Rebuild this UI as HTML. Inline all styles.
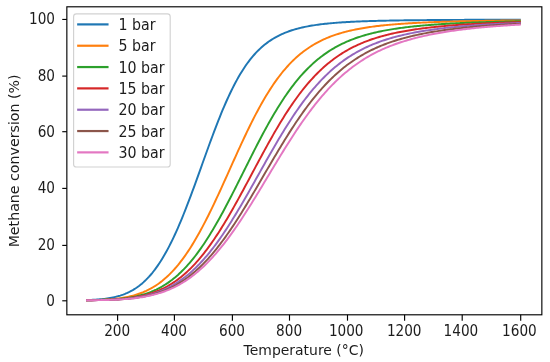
<!DOCTYPE html>
<html><head><meta charset="utf-8"><title>Methane conversion</title>
<style>html,body{margin:0;padding:0;background:#fff}svg{display:block}text{font-family:"DejaVu Sans","Liberation Sans",sans-serif;font-size:15.40px;fill:#1c1c1c}</style></head><body>
<svg width="550" height="362" viewBox="0 0 550 362">
<rect width="550" height="362" fill="#fff"/>
<g fill="none" stroke-width="1.95" stroke-linecap="square" stroke-linejoin="round">
<polyline stroke="#1f77b4" points="87.06,300.01 88.50,299.97 89.94,299.91 91.38,299.85 92.83,299.78 94.27,299.71 95.71,299.62 97.15,299.52 98.60,299.41 100.04,299.29 101.48,299.16 102.92,299.01 104.37,298.85 105.81,298.66 107.25,298.46 108.69,298.24 110.14,298.00 111.58,297.74 113.02,297.45 114.46,297.14 115.91,296.80 117.35,296.42 118.79,296.02 120.23,295.59 121.68,295.11 123.12,294.61 124.56,294.06 126.00,293.47 127.45,292.84 128.89,292.16 130.33,291.44 131.77,290.66 133.22,289.83 134.66,288.95 136.10,288.01 137.55,287.01 138.99,285.95 140.43,284.83 141.87,283.64 143.32,282.38 144.76,281.05 146.20,279.65 147.64,278.18 149.09,276.63 150.53,275.00 151.97,273.29 153.41,271.50 154.86,269.63 156.30,267.67 157.74,265.62 159.18,263.49 160.63,261.28 162.07,258.97 163.51,256.57 164.95,254.09 166.40,251.52 167.84,248.85 169.28,246.10 170.72,243.26 172.17,240.34 173.61,237.32 175.05,234.23 176.49,231.05 177.94,227.79 179.38,224.45 180.82,221.04 182.26,217.56 183.71,214.00 185.15,210.38 186.59,206.70 188.03,202.97 189.48,199.18 190.92,195.34 192.36,191.46 193.80,187.54 195.25,183.58 196.69,179.60 198.13,175.60 199.57,171.59 201.02,167.56 202.46,163.53 203.90,159.50 205.34,155.48 206.79,151.48 208.23,147.49 209.67,143.53 211.11,139.61 212.56,135.72 214.00,131.88 215.44,128.08 216.88,124.34 218.33,120.65 219.77,117.03 221.21,113.47 222.65,109.99 224.10,106.58 225.54,103.24 226.98,99.99 228.42,96.82 229.87,93.73 231.31,90.73 232.75,87.82 234.19,84.99 235.64,82.26 237.08,79.61 238.52,77.05 239.96,74.58 241.41,72.20 242.85,69.90 244.29,67.69 245.73,65.57 247.18,63.53 248.62,61.57 250.06,59.69 251.50,57.89 252.95,56.16 254.39,54.51 255.83,52.93 257.27,51.42 258.72,49.98 260.16,48.60 261.60,47.28 263.04,46.03 264.49,44.83 265.93,43.69 267.37,42.60 268.81,41.56 270.26,40.57 271.70,39.63 273.14,38.73 274.59,37.87 276.03,37.06 277.47,36.28 278.91,35.54 280.36,34.84 281.80,34.17 283.24,33.53 284.68,32.93 286.13,32.35 287.57,31.80 289.01,31.27 290.45,30.78 291.90,30.30 293.34,29.85 294.78,29.42 296.22,29.01 297.67,28.62 299.11,28.24 300.55,27.89 301.99,27.55 303.44,27.23 304.88,26.92 306.32,26.62 307.76,26.34 309.21,26.08 310.65,25.82 312.09,25.58 313.53,25.35 314.98,25.12 316.42,24.91 317.86,24.71 319.30,24.52 320.75,24.33 322.19,24.15 323.63,23.98 325.07,23.82 326.52,23.67 327.96,23.52 329.40,23.38 330.84,23.24 332.29,23.11 333.73,22.99 335.17,22.87 336.61,22.75 338.06,22.64 339.50,22.54 340.94,22.44 342.38,22.34 343.83,22.25 345.27,22.16 346.71,22.07 348.15,21.99 349.60,21.91 351.04,21.84 352.48,21.76 353.92,21.69 355.37,21.62 356.81,21.56 358.25,21.50 359.69,21.44 361.14,21.38 362.58,21.32 364.02,21.27 365.46,21.22 366.91,21.17 368.35,21.12 369.79,21.08 371.23,21.03 372.68,20.99 374.12,20.95 375.56,20.91 377.00,20.87 378.45,20.83 379.89,20.80 381.33,20.76 382.77,20.73 384.22,20.70 385.66,20.66 387.10,20.63 388.54,20.61 389.99,20.58 391.43,20.55 392.87,20.52 394.31,20.50 395.76,20.47 397.20,20.45 398.64,20.43 400.08,20.40 401.53,20.38 402.97,20.36 404.41,20.34 405.86,20.32 407.30,20.30 408.74,20.28 410.18,20.27 411.63,20.25 413.07,20.23 414.51,20.21 415.95,20.20 417.40,20.18 418.84,20.17 420.28,20.15 421.72,20.14 423.17,20.12 424.61,20.11 426.05,20.10 427.49,20.08 428.94,20.07 430.38,20.06 431.82,20.05 433.26,20.04 434.71,20.03 436.15,20.01 437.59,20.00 439.03,19.99 440.48,19.98 441.92,19.97 443.36,19.96 444.80,19.95 446.25,19.94 447.69,19.94 449.13,19.93 450.57,19.92 452.02,19.91 453.46,19.90 454.90,19.89 456.34,19.89 457.79,19.88 459.23,19.87 460.67,19.87 462.11,19.86 463.56,19.85 465.00,19.84 466.44,19.84 467.88,19.83 469.33,19.83 470.77,19.82 472.21,19.81 473.65,19.81 475.10,19.80 476.54,19.80 477.98,19.79 479.42,19.79 480.87,19.78 482.31,19.78 483.75,19.77 485.19,19.77 486.64,19.76 488.08,19.76 489.52,19.75 490.96,19.75 492.41,19.74 493.85,19.74 495.29,19.74 496.73,19.73 498.18,19.73 499.62,19.72 501.06,19.72 502.50,19.72 503.95,19.71 505.39,19.71 506.83,19.71 508.27,19.70 509.72,19.70 511.16,19.70 512.60,19.69 514.04,19.69 515.49,19.69 516.93,19.68 518.37,19.68 519.81,19.68"/>
<polyline stroke="#ff7f0e" points="87.06,300.17 88.50,300.15 89.94,300.13 91.38,300.10 92.83,300.07 94.27,300.03 95.71,300.00 97.15,299.95 98.60,299.90 100.04,299.85 101.48,299.79 102.92,299.72 104.37,299.65 105.81,299.57 107.25,299.48 108.69,299.38 110.14,299.27 111.58,299.15 113.02,299.02 114.46,298.88 115.91,298.73 117.35,298.56 118.79,298.38 120.23,298.18 121.68,297.97 123.12,297.74 124.56,297.49 126.00,297.22 127.45,296.94 128.89,296.63 130.33,296.30 131.77,295.95 133.22,295.57 134.66,295.17 136.10,294.74 137.55,294.28 138.99,293.79 140.43,293.27 141.87,292.72 143.32,292.14 144.76,291.52 146.20,290.87 147.64,290.18 149.09,289.45 150.53,288.69 151.97,287.88 153.41,287.03 154.86,286.14 156.30,285.20 157.74,284.22 159.18,283.19 160.63,282.11 162.07,280.99 163.51,279.81 164.95,278.58 166.40,277.30 167.84,275.97 169.28,274.58 170.72,273.14 172.17,271.65 173.61,270.09 175.05,268.48 176.49,266.81 177.94,265.09 179.38,263.30 180.82,261.46 182.26,259.56 183.71,257.60 185.15,255.58 186.59,253.50 188.03,251.37 189.48,249.17 190.92,246.92 192.36,244.61 193.80,242.24 195.25,239.82 196.69,237.34 198.13,234.81 199.57,232.22 201.02,229.59 202.46,226.90 203.90,224.17 205.34,221.39 206.79,218.56 208.23,215.69 209.67,212.78 211.11,209.84 212.56,206.85 214.00,203.83 215.44,200.78 216.88,197.70 218.33,194.60 219.77,191.47 221.21,188.32 222.65,185.15 224.10,181.96 225.54,178.77 226.98,175.56 228.42,172.35 229.87,169.14 231.31,165.93 232.75,162.72 234.19,159.51 235.64,156.32 237.08,153.14 238.52,149.97 239.96,146.82 241.41,143.69 242.85,140.59 244.29,137.51 245.73,134.47 247.18,131.45 248.62,128.47 250.06,125.53 251.50,122.62 252.95,119.76 254.39,116.93 255.83,114.16 257.27,111.43 258.72,108.74 260.16,106.11 261.60,103.53 263.04,100.99 264.49,98.51 265.93,96.09 267.37,93.71 268.81,91.40 270.26,89.13 271.70,86.92 273.14,84.77 274.59,82.67 276.03,80.63 277.47,78.64 278.91,76.71 280.36,74.83 281.80,73.01 283.24,71.23 284.68,69.52 286.13,67.85 287.57,66.23 289.01,64.67 290.45,63.15 291.90,61.68 293.34,60.26 294.78,58.89 296.22,57.56 297.67,56.27 299.11,55.03 300.55,53.83 301.99,52.67 303.44,51.55 304.88,50.48 306.32,49.43 307.76,48.43 309.21,47.46 310.65,46.52 312.09,45.62 313.53,44.75 314.98,43.91 316.42,43.10 317.86,42.32 319.30,41.57 320.75,40.85 322.19,40.15 323.63,39.48 325.07,38.83 326.52,38.20 327.96,37.60 329.40,37.02 330.84,36.46 332.29,35.92 333.73,35.41 335.17,34.91 336.61,34.42 338.06,33.96 339.50,33.51 340.94,33.08 342.38,32.66 343.83,32.26 345.27,31.88 346.71,31.50 348.15,31.14 349.60,30.80 351.04,30.46 352.48,30.14 353.92,29.83 355.37,29.53 356.81,29.24 358.25,28.96 359.69,28.69 361.14,28.43 362.58,28.18 364.02,27.94 365.46,27.70 366.91,27.48 368.35,27.26 369.79,27.05 371.23,26.84 372.68,26.64 374.12,26.45 375.56,26.27 377.00,26.09 378.45,25.92 379.89,25.75 381.33,25.59 382.77,25.44 384.22,25.28 385.66,25.14 387.10,25.00 388.54,24.86 389.99,24.73 391.43,24.60 392.87,24.48 394.31,24.36 395.76,24.24 397.20,24.13 398.64,24.02 400.08,23.91 401.53,23.81 402.97,23.71 404.41,23.61 405.86,23.52 407.30,23.43 408.74,23.34 410.18,23.25 411.63,23.16 413.07,23.08 414.51,23.00 415.95,22.93 417.40,22.85 418.84,22.78 420.28,22.71 421.72,22.64 423.17,22.57 424.61,22.50 426.05,22.44 427.49,22.38 428.94,22.32 430.38,22.26 431.82,22.20 433.26,22.14 434.71,22.09 436.15,22.03 437.59,21.98 439.03,21.93 440.48,21.88 441.92,21.83 443.36,21.79 444.80,21.74 446.25,21.70 447.69,21.65 449.13,21.61 450.57,21.57 452.02,21.53 453.46,21.49 454.90,21.45 456.34,21.41 457.79,21.38 459.23,21.34 460.67,21.31 462.11,21.27 463.56,21.24 465.00,21.21 466.44,21.17 467.88,21.14 469.33,21.11 470.77,21.08 472.21,21.05 473.65,21.03 475.10,21.00 476.54,20.97 477.98,20.95 479.42,20.92 480.87,20.89 482.31,20.87 483.75,20.85 485.19,20.82 486.64,20.80 488.08,20.78 489.52,20.75 490.96,20.73 492.41,20.71 493.85,20.69 495.29,20.67 496.73,20.65 498.18,20.63 499.62,20.61 501.06,20.59 502.50,20.57 503.95,20.56 505.39,20.54 506.83,20.52 508.27,20.50 509.72,20.49 511.16,20.47 512.60,20.46 514.04,20.44 515.49,20.42 516.93,20.41 518.37,20.40 519.81,20.38"/>
<polyline stroke="#2ca02c" points="87.06,300.21 88.50,300.19 89.94,300.18 91.38,300.16 92.83,300.14 94.27,300.11 95.71,300.08 97.15,300.05 98.60,300.02 100.04,299.98 101.48,299.94 102.92,299.89 104.37,299.84 105.81,299.78 107.25,299.72 108.69,299.65 110.14,299.57 111.58,299.49 113.02,299.40 114.46,299.30 115.91,299.19 117.35,299.07 118.79,298.94 120.23,298.80 121.68,298.65 123.12,298.49 124.56,298.31 126.00,298.12 127.45,297.92 128.89,297.70 130.33,297.47 131.77,297.21 133.22,296.95 134.66,296.66 136.10,296.35 137.55,296.03 138.99,295.68 140.43,295.31 141.87,294.92 143.32,294.50 144.76,294.06 146.20,293.60 147.64,293.11 149.09,292.59 150.53,292.04 151.97,291.46 153.41,290.85 154.86,290.21 156.30,289.54 157.74,288.83 159.18,288.09 160.63,287.31 162.07,286.50 163.51,285.65 164.95,284.76 166.40,283.83 167.84,282.87 169.28,281.86 170.72,280.81 172.17,279.72 173.61,278.58 175.05,277.40 176.49,276.18 177.94,274.91 179.38,273.59 180.82,272.23 182.26,270.82 183.71,269.37 185.15,267.87 186.59,266.31 188.03,264.72 189.48,263.07 190.92,261.37 192.36,259.63 193.80,257.83 195.25,255.99 196.69,254.10 198.13,252.16 199.57,250.17 201.02,248.14 202.46,246.06 203.90,243.93 205.34,241.75 206.79,239.53 208.23,237.27 209.67,234.96 211.11,232.61 212.56,230.22 214.00,227.79 215.44,225.32 216.88,222.81 218.33,220.26 219.77,217.68 221.21,215.07 222.65,212.43 224.10,209.75 225.54,207.05 226.98,204.32 228.42,201.56 229.87,198.78 231.31,195.99 232.75,193.17 234.19,190.34 235.64,187.49 237.08,184.63 238.52,181.76 239.96,178.88 241.41,175.99 242.85,173.11 244.29,170.22 245.73,167.33 247.18,164.45 248.62,161.57 250.06,158.70 251.50,155.84 252.95,152.99 254.39,150.16 255.83,147.34 257.27,144.54 258.72,141.76 260.16,139.00 261.60,136.27 263.04,133.57 264.49,130.89 265.93,128.24 267.37,125.62 268.81,123.03 270.26,120.48 271.70,117.97 273.14,115.49 274.59,113.04 276.03,110.64 277.47,108.27 278.91,105.95 280.36,103.67 281.80,101.42 283.24,99.23 284.68,97.07 286.13,94.96 287.57,92.89 289.01,90.86 290.45,88.88 291.90,86.94 293.34,85.05 294.78,83.20 296.22,81.40 297.67,79.64 299.11,77.92 300.55,76.24 301.99,74.61 303.44,73.02 304.88,71.47 306.32,69.97 307.76,68.50 309.21,67.08 310.65,65.69 312.09,64.34 313.53,63.03 314.98,61.76 316.42,60.53 317.86,59.33 319.30,58.16 320.75,57.03 322.19,55.94 323.63,54.88 325.07,53.84 326.52,52.85 327.96,51.88 329.40,50.94 330.84,50.03 332.29,49.15 333.73,48.29 335.17,47.46 336.61,46.66 338.06,45.89 339.50,45.13 340.94,44.41 342.38,43.70 343.83,43.02 345.27,42.36 346.71,41.72 348.15,41.10 349.60,40.50 351.04,39.92 352.48,39.35 353.92,38.81 355.37,38.28 356.81,37.77 358.25,37.28 359.69,36.80 361.14,36.34 362.58,35.89 364.02,35.45 365.46,35.03 366.91,34.63 368.35,34.23 369.79,33.85 371.23,33.48 372.68,33.12 374.12,32.77 375.56,32.44 377.00,32.11 378.45,31.79 379.89,31.49 381.33,31.19 382.77,30.90 384.22,30.62 385.66,30.35 387.10,30.09 388.54,29.84 389.99,29.59 391.43,29.35 392.87,29.12 394.31,28.90 395.76,28.68 397.20,28.47 398.64,28.26 400.08,28.06 401.53,27.87 402.97,27.68 404.41,27.49 405.86,27.32 407.30,27.14 408.74,26.97 410.18,26.81 411.63,26.65 413.07,26.49 414.51,26.34 415.95,26.19 417.40,26.05 418.84,25.91 420.28,25.77 421.72,25.64 423.17,25.51 424.61,25.38 426.05,25.26 427.49,25.14 428.94,25.02 430.38,24.91 431.82,24.80 433.26,24.69 434.71,24.58 436.15,24.48 437.59,24.38 439.03,24.28 440.48,24.19 441.92,24.09 443.36,24.00 444.80,23.91 446.25,23.83 447.69,23.74 449.13,23.66 450.57,23.58 452.02,23.50 453.46,23.42 454.90,23.35 456.34,23.28 457.79,23.21 459.23,23.14 460.67,23.07 462.11,23.00 463.56,22.94 465.00,22.87 466.44,22.81 467.88,22.75 469.33,22.69 470.77,22.63 472.21,22.58 473.65,22.52 475.10,22.47 476.54,22.41 477.98,22.36 479.42,22.31 480.87,22.26 482.31,22.21 483.75,22.16 485.19,22.12 486.64,22.07 488.08,22.03 489.52,21.98 490.96,21.94 492.41,21.90 493.85,21.86 495.29,21.82 496.73,21.78 498.18,21.74 499.62,21.70 501.06,21.67 502.50,21.63 503.95,21.60 505.39,21.56 506.83,21.53 508.27,21.49 509.72,21.46 511.16,21.43 512.60,21.40 514.04,21.37 515.49,21.34 516.93,21.31 518.37,21.28 519.81,21.25"/>
<polyline stroke="#d62728" points="87.06,300.23 88.50,300.21 89.94,300.20 91.38,300.18 92.83,300.17 94.27,300.15 95.71,300.12 97.15,300.10 98.60,300.07 100.04,300.04 101.48,300.00 102.92,299.97 104.37,299.92 105.81,299.88 107.25,299.82 108.69,299.77 110.14,299.71 111.58,299.64 113.02,299.56 114.46,299.48 115.91,299.39 117.35,299.29 118.79,299.19 120.23,299.08 121.68,298.95 123.12,298.82 124.56,298.68 126.00,298.52 127.45,298.35 128.89,298.18 130.33,297.98 131.77,297.78 133.22,297.56 134.66,297.32 136.10,297.07 137.55,296.81 138.99,296.52 140.43,296.22 141.87,295.90 143.32,295.56 144.76,295.20 146.20,294.82 147.64,294.41 149.09,293.98 150.53,293.53 151.97,293.06 153.41,292.56 154.86,292.03 156.30,291.48 157.74,290.90 159.18,290.29 160.63,289.65 162.07,288.98 163.51,288.28 164.95,287.55 166.40,286.78 167.84,285.98 169.28,285.15 170.72,284.28 172.17,283.38 173.61,282.44 175.05,281.46 176.49,280.44 177.94,279.39 179.38,278.29 180.82,277.16 182.26,275.99 183.71,274.77 185.15,273.52 186.59,272.22 188.03,270.88 189.48,269.50 190.92,268.08 192.36,266.61 193.80,265.10 195.25,263.55 196.69,261.95 198.13,260.31 199.57,258.63 201.02,256.90 202.46,255.13 203.90,253.32 205.34,251.46 206.79,249.57 208.23,247.63 209.67,245.65 211.11,243.62 212.56,241.56 214.00,239.46 215.44,237.32 216.88,235.14 218.33,232.92 219.77,230.67 221.21,228.38 222.65,226.06 224.10,223.70 225.54,221.32 226.98,218.90 228.42,216.45 229.87,213.97 231.31,211.47 232.75,208.94 234.19,206.39 235.64,203.82 237.08,201.22 238.52,198.61 239.96,195.98 241.41,193.33 242.85,190.67 244.29,188.00 245.73,185.32 247.18,182.63 248.62,179.93 250.06,177.23 251.50,174.52 252.95,171.82 254.39,169.11 255.83,166.41 257.27,163.72 258.72,161.03 260.16,158.34 261.60,155.67 263.04,153.01 264.49,150.37 265.93,147.74 267.37,145.12 268.81,142.53 270.26,139.95 271.70,137.40 273.14,134.87 274.59,132.36 276.03,129.88 277.47,127.42 278.91,125.00 280.36,122.60 281.80,120.24 283.24,117.90 284.68,115.60 286.13,113.33 287.57,111.10 289.01,108.90 290.45,106.74 291.90,104.61 293.34,102.52 294.78,100.46 296.22,98.45 297.67,96.47 299.11,94.53 300.55,92.62 301.99,90.76 303.44,88.93 304.88,87.15 306.32,85.40 307.76,83.69 309.21,82.01 310.65,80.38 312.09,78.78 313.53,77.22 314.98,75.70 316.42,74.21 317.86,72.76 319.30,71.35 320.75,69.97 322.19,68.63 323.63,67.32 325.07,66.04 326.52,64.80 327.96,63.59 329.40,62.42 330.84,61.27 332.29,60.16 333.73,59.07 335.17,58.02 336.61,56.99 338.06,56.00 339.50,55.03 340.94,54.09 342.38,53.17 343.83,52.28 345.27,51.42 346.71,50.58 348.15,49.77 349.60,48.97 351.04,48.21 352.48,47.46 353.92,46.74 355.37,46.03 356.81,45.35 358.25,44.69 359.69,44.04 361.14,43.42 362.58,42.81 364.02,42.22 365.46,41.65 366.91,41.10 368.35,40.56 369.79,40.04 371.23,39.53 372.68,39.04 374.12,38.56 375.56,38.09 377.00,37.64 378.45,37.20 379.89,36.78 381.33,36.37 382.77,35.97 384.22,35.58 385.66,35.20 387.10,34.83 388.54,34.48 389.99,34.13 391.43,33.80 392.87,33.47 394.31,33.15 395.76,32.85 397.20,32.55 398.64,32.26 400.08,31.97 401.53,31.70 402.97,31.43 404.41,31.17 405.86,30.92 407.30,30.67 408.74,30.43 410.18,30.19 411.63,29.96 413.07,29.74 414.51,29.52 415.95,29.31 417.40,29.10 418.84,28.90 420.28,28.71 421.72,28.51 423.17,28.33 424.61,28.15 426.05,27.97 427.49,27.79 428.94,27.63 430.38,27.46 431.82,27.30 433.26,27.14 434.71,26.99 436.15,26.84 437.59,26.70 439.03,26.55 440.48,26.42 441.92,26.28 443.36,26.15 444.80,26.02 446.25,25.89 447.69,25.77 449.13,25.65 450.57,25.53 452.02,25.42 453.46,25.31 454.90,25.20 456.34,25.09 457.79,24.99 459.23,24.88 460.67,24.79 462.11,24.69 463.56,24.59 465.00,24.50 466.44,24.41 467.88,24.32 469.33,24.23 470.77,24.15 472.21,24.06 473.65,23.98 475.10,23.90 476.54,23.83 477.98,23.75 479.42,23.67 480.87,23.60 482.31,23.53 483.75,23.46 485.19,23.39 486.64,23.32 488.08,23.26 489.52,23.19 490.96,23.13 492.41,23.07 493.85,23.01 495.29,22.95 496.73,22.89 498.18,22.84 499.62,22.78 501.06,22.73 502.50,22.67 503.95,22.62 505.39,22.57 506.83,22.52 508.27,22.47 509.72,22.42 511.16,22.38 512.60,22.33 514.04,22.28 515.49,22.24 516.93,22.20 518.37,22.15 519.81,22.11"/>
<polyline stroke="#9467bd" points="87.06,300.24 88.50,300.23 89.94,300.21 91.38,300.20 92.83,300.18 94.27,300.17 95.71,300.15 97.15,300.13 98.60,300.10 100.04,300.07 101.48,300.04 102.92,300.01 104.37,299.97 105.81,299.93 107.25,299.89 108.69,299.84 110.14,299.78 111.58,299.73 113.02,299.66 114.46,299.59 115.91,299.51 117.35,299.43 118.79,299.34 120.23,299.24 121.68,299.13 123.12,299.02 124.56,298.89 126.00,298.76 127.45,298.61 128.89,298.46 130.33,298.29 131.77,298.11 133.22,297.92 134.66,297.72 136.10,297.50 137.55,297.27 138.99,297.03 140.43,296.76 141.87,296.48 143.32,296.19 144.76,295.88 146.20,295.54 147.64,295.19 149.09,294.82 150.53,294.43 151.97,294.02 153.41,293.58 154.86,293.13 156.30,292.64 157.74,292.14 159.18,291.61 160.63,291.05 162.07,290.47 163.51,289.86 164.95,289.22 166.40,288.55 167.84,287.86 169.28,287.13 170.72,286.37 172.17,285.58 173.61,284.76 175.05,283.91 176.49,283.02 177.94,282.09 179.38,281.14 180.82,280.15 182.26,279.12 183.71,278.05 185.15,276.95 186.59,275.81 188.03,274.63 189.48,273.42 190.92,272.17 192.36,270.87 193.80,269.54 195.25,268.17 196.69,266.76 198.13,265.31 199.57,263.82 201.02,262.29 202.46,260.72 203.90,259.11 205.34,257.46 206.79,255.77 208.23,254.05 209.67,252.28 211.11,250.47 212.56,248.63 214.00,246.74 215.44,244.82 216.88,242.87 218.33,240.87 219.77,238.84 221.21,236.78 222.65,234.68 224.10,232.54 225.54,230.38 226.98,228.18 228.42,225.95 229.87,223.69 231.31,221.41 232.75,219.09 234.19,216.75 235.64,214.38 237.08,211.99 238.52,209.58 239.96,207.14 241.41,204.68 242.85,202.21 244.29,199.72 245.73,197.21 247.18,194.69 248.62,192.16 250.06,189.61 251.50,187.06 252.95,184.49 254.39,181.93 255.83,179.35 257.27,176.78 258.72,174.20 260.16,171.62 261.60,169.04 263.04,166.47 264.49,163.90 265.93,161.34 267.37,158.79 268.81,156.25 270.26,153.71 271.70,151.19 273.14,148.69 274.59,146.20 276.03,143.73 277.47,141.27 278.91,138.84 280.36,136.42 281.80,134.03 283.24,131.66 284.68,129.32 286.13,127.00 287.57,124.70 289.01,122.44 290.45,120.20 291.90,117.99 293.34,115.81 294.78,113.66 296.22,111.54 297.67,109.46 299.11,107.41 300.55,105.39 301.99,103.40 303.44,101.44 304.88,99.52 306.32,97.64 307.76,95.79 309.21,93.97 310.65,92.19 312.09,90.44 313.53,88.73 314.98,87.05 316.42,85.41 317.86,83.80 319.30,82.22 320.75,80.68 322.19,79.18 323.63,77.70 325.07,76.26 326.52,74.86 327.96,73.48 329.40,72.14 330.84,70.83 332.29,69.55 333.73,68.30 335.17,67.09 336.61,65.90 338.06,64.74 339.50,63.61 340.94,62.51 342.38,61.44 343.83,60.40 345.27,59.38 346.71,58.39 348.15,57.43 349.60,56.49 351.04,55.57 352.48,54.68 353.92,53.81 355.37,52.97 356.81,52.15 358.25,51.35 359.69,50.58 361.14,49.82 362.58,49.09 364.02,48.37 365.46,47.67 366.91,47.00 368.35,46.34 369.79,45.70 371.23,45.08 372.68,44.47 374.12,43.89 375.56,43.31 377.00,42.76 378.45,42.22 379.89,41.69 381.33,41.18 382.77,40.68 384.22,40.20 385.66,39.73 387.10,39.27 388.54,38.82 389.99,38.39 391.43,37.97 392.87,37.56 394.31,37.16 395.76,36.78 397.20,36.40 398.64,36.03 400.08,35.68 401.53,35.33 402.97,34.99 404.41,34.66 405.86,34.34 407.30,34.02 408.74,33.72 410.18,33.42 411.63,33.13 413.07,32.84 414.51,32.56 415.95,32.29 417.40,32.03 418.84,31.77 420.28,31.52 421.72,31.28 423.17,31.04 424.61,30.80 426.05,30.58 427.49,30.35 428.94,30.14 430.38,29.92 431.82,29.72 433.26,29.52 434.71,29.32 436.15,29.13 437.59,28.94 439.03,28.76 440.48,28.58 441.92,28.40 443.36,28.23 444.80,28.06 446.25,27.90 447.69,27.74 449.13,27.59 450.57,27.43 452.02,27.29 453.46,27.14 454.90,27.00 456.34,26.86 457.79,26.72 459.23,26.59 460.67,26.46 462.11,26.33 463.56,26.21 465.00,26.09 466.44,25.97 467.88,25.85 469.33,25.74 470.77,25.63 472.21,25.52 473.65,25.42 475.10,25.31 476.54,25.21 477.98,25.11 479.42,25.01 480.87,24.92 482.31,24.82 483.75,24.73 485.19,24.64 486.64,24.55 488.08,24.47 489.52,24.38 490.96,24.30 492.41,24.22 493.85,24.14 495.29,24.06 496.73,23.99 498.18,23.91 499.62,23.84 501.06,23.77 502.50,23.70 503.95,23.63 505.39,23.56 506.83,23.50 508.27,23.43 509.72,23.37 511.16,23.31 512.60,23.25 514.04,23.19 515.49,23.13 516.93,23.07 518.37,23.01 519.81,22.96"/>
<polyline stroke="#8c564b" points="87.06,300.24 88.50,300.23 89.94,300.22 91.38,300.21 92.83,300.20 94.27,300.18 95.71,300.16 97.15,300.14 98.60,300.12 100.04,300.10 101.48,300.07 102.92,300.04 104.37,300.01 105.81,299.97 107.25,299.93 108.69,299.89 110.14,299.84 111.58,299.79 113.02,299.73 114.46,299.66 115.91,299.60 117.35,299.52 118.79,299.44 120.23,299.35 121.68,299.26 123.12,299.15 124.56,299.04 126.00,298.92 127.45,298.79 128.89,298.65 130.33,298.50 131.77,298.34 133.22,298.17 134.66,297.99 136.10,297.80 137.55,297.59 138.99,297.37 140.43,297.13 141.87,296.89 143.32,296.62 144.76,296.34 146.20,296.04 147.64,295.73 149.09,295.40 150.53,295.04 151.97,294.67 153.41,294.29 154.86,293.87 156.30,293.44 157.74,292.99 159.18,292.51 160.63,292.01 162.07,291.49 163.51,290.94 164.95,290.37 166.40,289.77 167.84,289.14 169.28,288.49 170.72,287.81 172.17,287.10 173.61,286.36 175.05,285.59 176.49,284.79 177.94,283.96 179.38,283.10 180.82,282.20 182.26,281.27 183.71,280.31 185.15,279.32 186.59,278.29 188.03,277.23 189.48,276.13 190.92,275.00 192.36,273.83 193.80,272.62 195.25,271.38 196.69,270.10 198.13,268.78 199.57,267.43 201.02,266.04 202.46,264.62 203.90,263.15 205.34,261.65 206.79,260.11 208.23,258.54 209.67,256.92 211.11,255.27 212.56,253.59 214.00,251.86 215.44,250.10 216.88,248.31 218.33,246.48 219.77,244.61 221.21,242.71 222.65,240.78 224.10,238.81 225.54,236.81 226.98,234.78 228.42,232.72 229.87,230.63 231.31,228.50 232.75,226.35 234.19,224.17 235.64,221.97 237.08,219.74 238.52,217.48 239.96,215.20 241.41,212.90 242.85,210.58 244.29,208.24 245.73,205.87 247.18,203.50 248.62,201.10 250.06,198.69 251.50,196.27 252.95,193.83 254.39,191.38 255.83,188.93 257.27,186.46 258.72,183.99 260.16,181.52 261.60,179.04 263.04,176.56 264.49,174.08 265.93,171.60 267.37,169.12 268.81,166.64 270.26,164.18 271.70,161.71 273.14,159.26 274.59,156.81 276.03,154.38 277.47,151.95 278.91,149.54 280.36,147.15 281.80,144.77 283.24,142.40 284.68,140.06 286.13,137.73 287.57,135.43 289.01,133.14 290.45,130.88 291.90,128.64 293.34,126.43 294.78,124.24 296.22,122.08 297.67,119.94 299.11,117.83 300.55,115.75 301.99,113.69 303.44,111.67 304.88,109.67 306.32,107.71 307.76,105.77 309.21,103.87 310.65,102.00 312.09,100.16 313.53,98.35 314.98,96.57 316.42,94.82 317.86,93.11 319.30,91.43 320.75,89.78 322.19,88.16 323.63,86.57 325.07,85.02 326.52,83.49 327.96,82.00 329.40,80.54 330.84,79.11 332.29,77.71 333.73,76.35 335.17,75.01 336.61,73.70 338.06,72.42 339.50,71.17 340.94,69.95 342.38,68.76 343.83,67.60 345.27,66.46 346.71,65.35 348.15,64.27 349.60,63.22 351.04,62.19 352.48,61.18 353.92,60.20 355.37,59.24 356.81,58.31 358.25,57.40 359.69,56.52 361.14,55.66 362.58,54.81 364.02,53.99 365.46,53.20 366.91,52.42 368.35,51.66 369.79,50.92 371.23,50.20 372.68,49.50 374.12,48.82 375.56,48.16 377.00,47.51 378.45,46.88 379.89,46.26 381.33,45.67 382.77,45.09 384.22,44.52 385.66,43.97 387.10,43.43 388.54,42.91 389.99,42.40 391.43,41.90 392.87,41.42 394.31,40.95 395.76,40.49 397.20,40.05 398.64,39.61 400.08,39.19 401.53,38.77 402.97,38.37 404.41,37.98 405.86,37.59 407.30,37.22 408.74,36.85 410.18,36.50 411.63,36.15 413.07,35.81 414.51,35.48 415.95,35.15 417.40,34.84 418.84,34.53 420.28,34.22 421.72,33.93 423.17,33.64 424.61,33.36 426.05,33.09 427.49,32.82 428.94,32.56 430.38,32.30 431.82,32.05 433.26,31.81 434.71,31.57 436.15,31.34 437.59,31.11 439.03,30.89 440.48,30.67 441.92,30.46 443.36,30.25 444.80,30.05 446.25,29.85 447.69,29.66 449.13,29.47 450.57,29.28 452.02,29.10 453.46,28.93 454.90,28.75 456.34,28.58 457.79,28.42 459.23,28.26 460.67,28.10 462.11,27.94 463.56,27.79 465.00,27.64 466.44,27.50 467.88,27.36 469.33,27.22 470.77,27.08 472.21,26.95 473.65,26.82 475.10,26.69 476.54,26.57 477.98,26.44 479.42,26.32 480.87,26.21 482.31,26.09 483.75,25.98 485.19,25.87 486.64,25.76 488.08,25.66 489.52,25.55 490.96,25.45 492.41,25.35 493.85,25.26 495.29,25.16 496.73,25.07 498.18,24.98 499.62,24.89 501.06,24.80 502.50,24.71 503.95,24.63 505.39,24.54 506.83,24.46 508.27,24.38 509.72,24.30 511.16,24.23 512.60,24.15 514.04,24.08 515.49,24.01 516.93,23.94 518.37,23.87 519.81,23.80"/>
<polyline stroke="#e377c2" points="87.06,300.25 88.50,300.24 89.94,300.23 91.38,300.22 92.83,300.21 94.27,300.19 95.71,300.18 97.15,300.16 98.60,300.14 100.04,300.12 101.48,300.09 102.92,300.06 104.37,300.03 105.81,300.00 107.25,299.96 108.69,299.92 110.14,299.88 111.58,299.83 113.02,299.78 114.46,299.72 115.91,299.66 117.35,299.59 118.79,299.51 120.23,299.43 121.68,299.35 123.12,299.25 124.56,299.15 126.00,299.04 127.45,298.92 128.89,298.80 130.33,298.66 131.77,298.51 133.22,298.36 134.66,298.19 136.10,298.01 137.55,297.83 138.99,297.62 140.43,297.41 141.87,297.18 143.32,296.94 144.76,296.68 146.20,296.41 147.64,296.12 149.09,295.82 150.53,295.50 151.97,295.16 153.41,294.80 154.86,294.43 156.30,294.03 157.74,293.62 159.18,293.18 160.63,292.73 162.07,292.25 163.51,291.75 164.95,291.22 166.40,290.67 167.84,290.10 169.28,289.50 170.72,288.87 172.17,288.22 173.61,287.55 175.05,286.84 176.49,286.11 177.94,285.34 179.38,284.55 180.82,283.73 182.26,282.88 183.71,282.00 185.15,281.08 186.59,280.14 188.03,279.16 189.48,278.15 190.92,277.10 192.36,276.03 193.80,274.92 195.25,273.77 196.69,272.59 198.13,271.38 199.57,270.13 201.02,268.85 202.46,267.53 203.90,266.18 205.34,264.79 206.79,263.37 208.23,261.91 209.67,260.41 211.11,258.88 212.56,257.32 214.00,255.72 215.44,254.08 216.88,252.41 218.33,250.71 219.77,248.97 221.21,247.20 222.65,245.40 224.10,243.57 225.54,241.70 226.98,239.80 228.42,237.87 229.87,235.91 231.31,233.92 232.75,231.90 234.19,229.85 235.64,227.78 237.08,225.68 238.52,223.55 239.96,221.40 241.41,219.22 242.85,217.03 244.29,214.81 245.73,212.57 247.18,210.31 248.62,208.03 250.06,205.74 251.50,203.43 252.95,201.10 254.39,198.76 255.83,196.41 257.27,194.05 258.72,191.68 260.16,189.30 261.60,186.91 263.04,184.52 264.49,182.12 265.93,179.72 267.37,177.31 268.81,174.91 270.26,172.51 271.70,170.11 273.14,167.71 274.59,165.32 276.03,162.93 277.47,160.55 278.91,158.18 280.36,155.82 281.80,153.47 283.24,151.13 284.68,148.81 286.13,146.50 287.57,144.20 289.01,141.92 290.45,139.66 291.90,137.42 293.34,135.20 294.78,133.00 296.22,130.82 297.67,128.66 299.11,126.52 300.55,124.41 301.99,122.32 303.44,120.26 304.88,118.22 306.32,116.21 307.76,114.23 309.21,112.27 310.65,110.34 312.09,108.44 313.53,106.57 314.98,104.72 316.42,102.91 317.86,101.13 319.30,99.37 320.75,97.64 322.19,95.95 323.63,94.28 325.07,92.65 326.52,91.04 327.96,89.46 329.40,87.92 330.84,86.40 332.29,84.91 333.73,83.45 335.17,82.03 336.61,80.63 338.06,79.26 339.50,77.91 340.94,76.60 342.38,75.32 343.83,74.06 345.27,72.83 346.71,71.63 348.15,70.45 349.60,69.30 351.04,68.18 352.48,67.08 353.92,66.01 355.37,64.96 356.81,63.94 358.25,62.94 359.69,61.96 361.14,61.01 362.58,60.08 364.02,59.17 365.46,58.29 366.91,57.42 368.35,56.58 369.79,55.76 371.23,54.96 372.68,54.17 374.12,53.41 375.56,52.67 377.00,51.94 378.45,51.23 379.89,50.54 381.33,49.87 382.77,49.22 384.22,48.58 385.66,47.95 387.10,47.35 388.54,46.75 389.99,46.18 391.43,45.62 392.87,45.07 394.31,44.53 395.76,44.01 397.20,43.50 398.64,43.01 400.08,42.53 401.53,42.05 402.97,41.59 404.41,41.14 405.86,40.70 407.30,40.27 408.74,39.85 410.18,39.44 411.63,39.04 413.07,38.65 414.51,38.27 415.95,37.90 417.40,37.53 418.84,37.17 420.28,36.83 421.72,36.49 423.17,36.15 424.61,35.83 426.05,35.51 427.49,35.20 428.94,34.90 430.38,34.60 431.82,34.31 433.26,34.03 434.71,33.75 436.15,33.48 437.59,33.22 439.03,32.96 440.48,32.70 441.92,32.46 443.36,32.22 444.80,31.98 446.25,31.75 447.69,31.52 449.13,31.30 450.57,31.08 452.02,30.87 453.46,30.67 454.90,30.46 456.34,30.27 457.79,30.07 459.23,29.88 460.67,29.70 462.11,29.52 463.56,29.34 465.00,29.16 466.44,28.99 467.88,28.83 469.33,28.66 470.77,28.50 472.21,28.35 473.65,28.19 475.10,28.04 476.54,27.90 477.98,27.75 479.42,27.61 480.87,27.47 482.31,27.34 483.75,27.21 485.19,27.08 486.64,26.95 488.08,26.83 489.52,26.70 490.96,26.58 492.41,26.47 493.85,26.35 495.29,26.24 496.73,26.13 498.18,26.02 499.62,25.91 501.06,25.81 502.50,25.71 503.95,25.61 505.39,25.51 506.83,25.41 508.27,25.32 509.72,25.23 511.16,25.14 512.60,25.05 514.04,24.96 515.49,24.87 516.93,24.79 518.37,24.71 519.81,24.63"/>
</g>
<rect x="66.85" y="6.80" width="475.00" height="308.00" fill="none" stroke="#000" stroke-width="1.14"/>
<g stroke="#000" stroke-width="1.14"><line x1="117.60" y1="314.80" x2="117.60" y2="320.67"/><line x1="174.40" y1="314.80" x2="174.40" y2="320.67"/><line x1="232.40" y1="314.80" x2="232.40" y2="320.67"/><line x1="289.50" y1="314.80" x2="289.50" y2="320.67"/><line x1="347.50" y1="314.80" x2="347.50" y2="320.67"/><line x1="404.60" y1="314.80" x2="404.60" y2="320.67"/><line x1="462.20" y1="314.80" x2="462.20" y2="320.67"/><line x1="520.70" y1="314.80" x2="520.70" y2="320.67"/><line x1="66.85" y1="300.80" x2="62.25" y2="300.80"/><line x1="66.85" y1="245.40" x2="62.25" y2="245.40"/><line x1="66.85" y1="188.40" x2="62.25" y2="188.40"/><line x1="66.85" y1="131.70" x2="62.25" y2="131.70"/><line x1="66.85" y1="76.10" x2="62.25" y2="76.10"/><line x1="66.85" y1="19.45" x2="62.25" y2="19.45"/></g>
<text transform="translate(117.20,335.50) scale(0.885,1)" text-anchor="middle">200</text>
<text transform="translate(174.00,335.50) scale(0.885,1)" text-anchor="middle">400</text>
<text transform="translate(232.00,335.50) scale(0.885,1)" text-anchor="middle">600</text>
<text transform="translate(289.10,335.50) scale(0.885,1)" text-anchor="middle">800</text>
<text transform="translate(346.20,335.50) scale(0.885,1)" text-anchor="middle">1000</text>
<text transform="translate(404.20,335.50) scale(0.885,1)" text-anchor="middle">1200</text>
<text transform="translate(460.90,335.50) scale(0.885,1)" text-anchor="middle">1400</text>
<text transform="translate(519.40,335.50) scale(0.885,1)" text-anchor="middle">1600</text>
<text transform="translate(55.00,305.65) scale(0.885,1)" text-anchor="end">0</text>
<text transform="translate(55.00,250.25) scale(0.885,1)" text-anchor="end">20</text>
<text transform="translate(55.00,193.25) scale(0.885,1)" text-anchor="end">40</text>
<text transform="translate(55.00,136.55) scale(0.885,1)" text-anchor="end">60</text>
<text transform="translate(55.00,80.95) scale(0.885,1)" text-anchor="end">80</text>
<text transform="translate(55.00,24.30) scale(0.885,1)" text-anchor="end">100</text>
<text transform="translate(303.75,355.30) scale(0.949,1)" text-anchor="middle" style="font-size:14.7px">Temperature (°C)</text>
<text transform="translate(19.00,160.90) rotate(-90) scale(0.966,1)" text-anchor="middle" style="font-size:14.7px">Methane conversion (%)</text>
<rect x="73.6" y="13.9" width="96.6" height="153.1" rx="2.8" ry="2.8" fill="#fff" fill-opacity="0.8" stroke="#d2d2d2" stroke-width="1.15"/>
<line x1="78.25" y1="24.40" x2="107.45" y2="24.40" stroke="#1f77b4" stroke-width="2.20" stroke-linecap="square"/>
<text transform="translate(118.40,30.00) scale(0.922,1)" text-anchor="start">1 bar</text>
<line x1="78.25" y1="45.73" x2="107.45" y2="45.73" stroke="#ff7f0e" stroke-width="2.20" stroke-linecap="square"/>
<text transform="translate(118.40,51.33) scale(0.922,1)" text-anchor="start">5 bar</text>
<line x1="78.25" y1="67.06" x2="107.45" y2="67.06" stroke="#2ca02c" stroke-width="2.20" stroke-linecap="square"/>
<text transform="translate(118.40,72.66) scale(0.922,1)" text-anchor="start">10 bar</text>
<line x1="78.25" y1="88.39" x2="107.45" y2="88.39" stroke="#d62728" stroke-width="2.20" stroke-linecap="square"/>
<text transform="translate(118.40,93.99) scale(0.922,1)" text-anchor="start">15 bar</text>
<line x1="78.25" y1="109.72" x2="107.45" y2="109.72" stroke="#9467bd" stroke-width="2.20" stroke-linecap="square"/>
<text transform="translate(118.40,115.32) scale(0.922,1)" text-anchor="start">20 bar</text>
<line x1="78.25" y1="131.05" x2="107.45" y2="131.05" stroke="#8c564b" stroke-width="2.20" stroke-linecap="square"/>
<text transform="translate(118.40,136.65) scale(0.922,1)" text-anchor="start">25 bar</text>
<line x1="78.25" y1="152.38" x2="107.45" y2="152.38" stroke="#e377c2" stroke-width="2.20" stroke-linecap="square"/>
<text transform="translate(118.40,157.98) scale(0.922,1)" text-anchor="start">30 bar</text>
</svg></body></html>
